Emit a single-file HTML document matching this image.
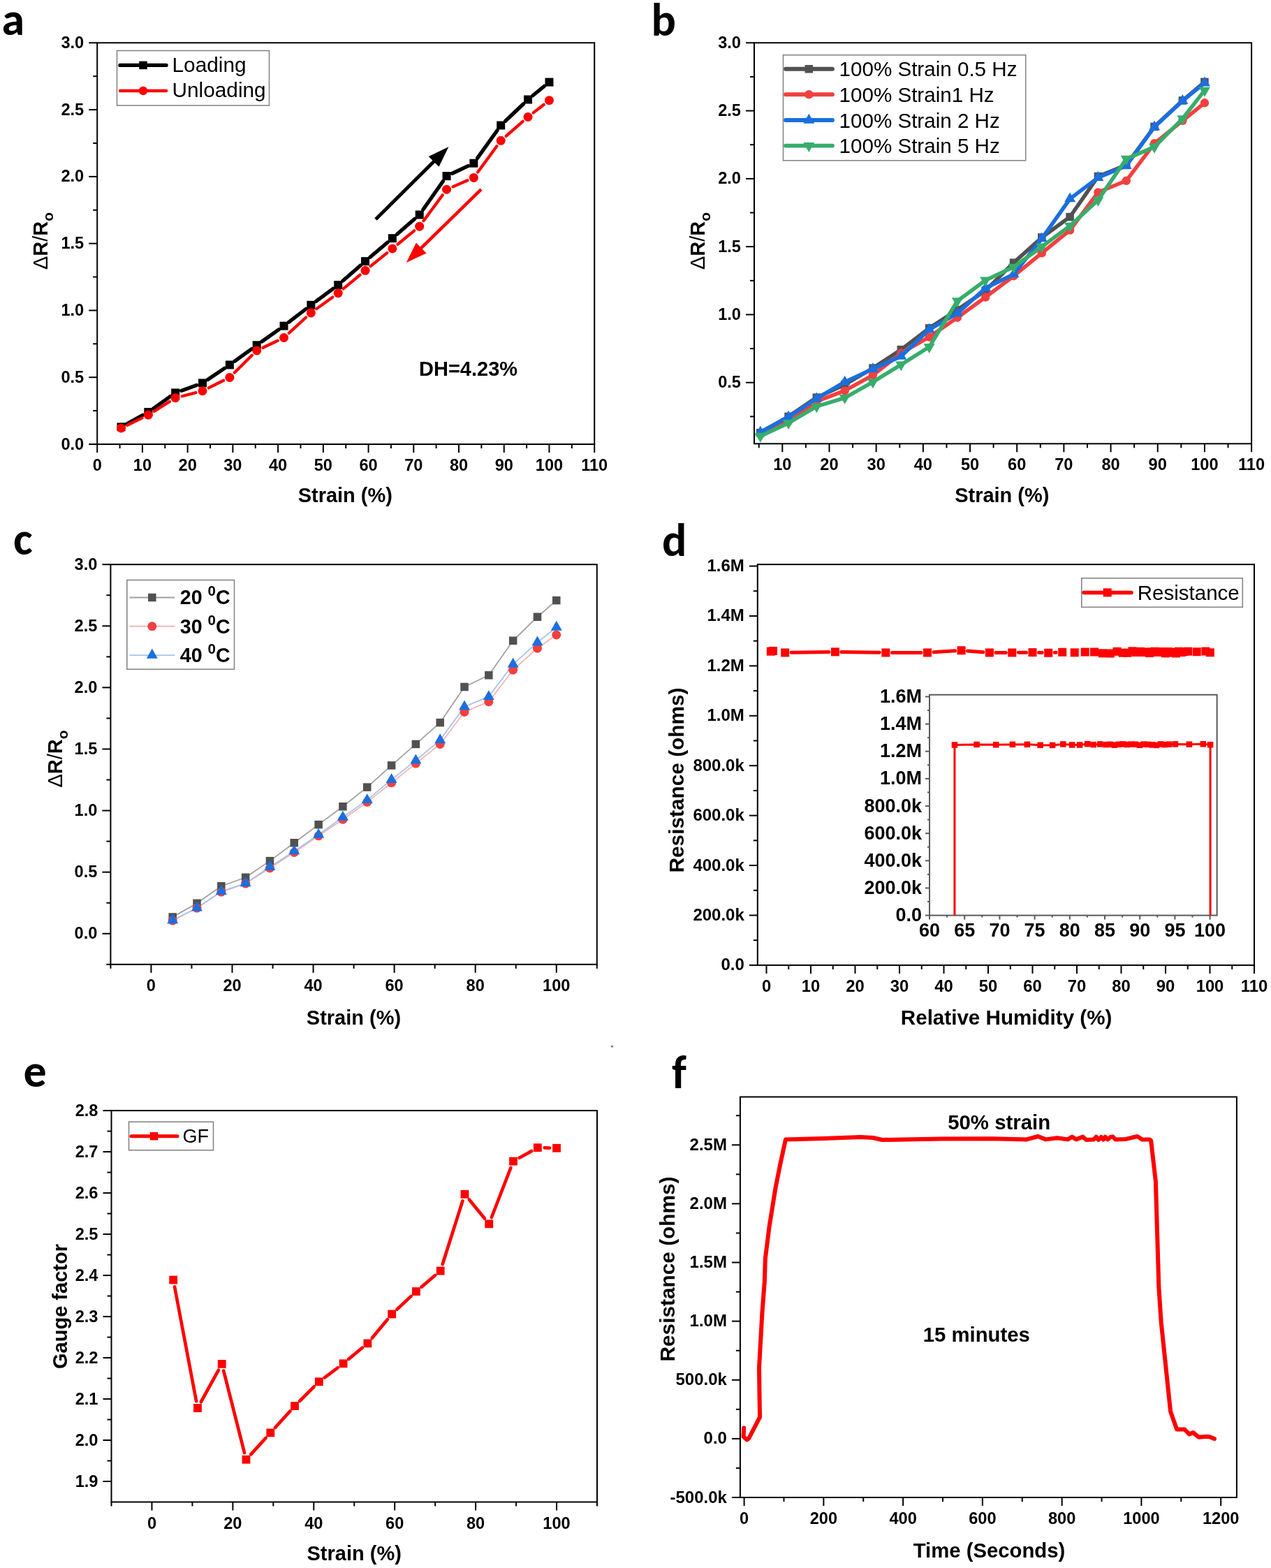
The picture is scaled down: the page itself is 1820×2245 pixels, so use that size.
<!DOCTYPE html>
<html><head><meta charset="utf-8"><title>Figure</title>
<style>html,body{margin:0;padding:0;background:#fff;} svg{display:block;}</style>
</head><body>
<svg width="1820" height="2245" viewBox="0 0 1820 2245" font-family="Liberation Sans, Arial, sans-serif">
<rect x="0" y="0" width="1820" height="2245" fill="#fff"/>
<rect x="139.2" y="61.3" width="712" height="574.7" fill="none" stroke="#000" stroke-width="2"/>
<line x1="139.2" y1="636" x2="139.2" y2="648" stroke="#000" stroke-width="2" stroke-linecap="butt" />
<line x1="203.93" y1="636" x2="203.93" y2="648" stroke="#000" stroke-width="2" stroke-linecap="butt" />
<line x1="268.65" y1="636" x2="268.65" y2="648" stroke="#000" stroke-width="2" stroke-linecap="butt" />
<line x1="333.38" y1="636" x2="333.38" y2="648" stroke="#000" stroke-width="2" stroke-linecap="butt" />
<line x1="398.11" y1="636" x2="398.11" y2="648" stroke="#000" stroke-width="2" stroke-linecap="butt" />
<line x1="462.84" y1="636" x2="462.84" y2="648" stroke="#000" stroke-width="2" stroke-linecap="butt" />
<line x1="527.56" y1="636" x2="527.56" y2="648" stroke="#000" stroke-width="2" stroke-linecap="butt" />
<line x1="592.29" y1="636" x2="592.29" y2="648" stroke="#000" stroke-width="2" stroke-linecap="butt" />
<line x1="657.02" y1="636" x2="657.02" y2="648" stroke="#000" stroke-width="2" stroke-linecap="butt" />
<line x1="721.75" y1="636" x2="721.75" y2="648" stroke="#000" stroke-width="2" stroke-linecap="butt" />
<line x1="786.47" y1="636" x2="786.47" y2="648" stroke="#000" stroke-width="2" stroke-linecap="butt" />
<line x1="851.2" y1="636" x2="851.2" y2="648" stroke="#000" stroke-width="2" stroke-linecap="butt" />
<line x1="171.56" y1="636" x2="171.56" y2="642" stroke="#000" stroke-width="2" stroke-linecap="butt" />
<line x1="236.29" y1="636" x2="236.29" y2="642" stroke="#000" stroke-width="2" stroke-linecap="butt" />
<line x1="301.02" y1="636" x2="301.02" y2="642" stroke="#000" stroke-width="2" stroke-linecap="butt" />
<line x1="365.75" y1="636" x2="365.75" y2="642" stroke="#000" stroke-width="2" stroke-linecap="butt" />
<line x1="430.47" y1="636" x2="430.47" y2="642" stroke="#000" stroke-width="2" stroke-linecap="butt" />
<line x1="495.2" y1="636" x2="495.2" y2="642" stroke="#000" stroke-width="2" stroke-linecap="butt" />
<line x1="559.93" y1="636" x2="559.93" y2="642" stroke="#000" stroke-width="2" stroke-linecap="butt" />
<line x1="624.65" y1="636" x2="624.65" y2="642" stroke="#000" stroke-width="2" stroke-linecap="butt" />
<line x1="689.38" y1="636" x2="689.38" y2="642" stroke="#000" stroke-width="2" stroke-linecap="butt" />
<line x1="754.11" y1="636" x2="754.11" y2="642" stroke="#000" stroke-width="2" stroke-linecap="butt" />
<line x1="818.84" y1="636" x2="818.84" y2="642" stroke="#000" stroke-width="2" stroke-linecap="butt" />
<text x="139.2" y="674" font-size="23.6" font-weight="bold" text-anchor="middle" fill="#000" >0</text>
<text x="203.93" y="674" font-size="23.6" font-weight="bold" text-anchor="middle" fill="#000" >10</text>
<text x="268.65" y="674" font-size="23.6" font-weight="bold" text-anchor="middle" fill="#000" >20</text>
<text x="333.38" y="674" font-size="23.6" font-weight="bold" text-anchor="middle" fill="#000" >30</text>
<text x="398.11" y="674" font-size="23.6" font-weight="bold" text-anchor="middle" fill="#000" >40</text>
<text x="462.84" y="674" font-size="23.6" font-weight="bold" text-anchor="middle" fill="#000" >50</text>
<text x="527.56" y="674" font-size="23.6" font-weight="bold" text-anchor="middle" fill="#000" >60</text>
<text x="592.29" y="674" font-size="23.6" font-weight="bold" text-anchor="middle" fill="#000" >70</text>
<text x="657.02" y="674" font-size="23.6" font-weight="bold" text-anchor="middle" fill="#000" >80</text>
<text x="721.75" y="674" font-size="23.6" font-weight="bold" text-anchor="middle" fill="#000" >90</text>
<text x="786.47" y="674" font-size="23.6" font-weight="bold" text-anchor="middle" fill="#000" >100</text>
<text x="851.2" y="674" font-size="23.6" font-weight="bold" text-anchor="middle" fill="#000" >110</text>
<line x1="127.2" y1="636" x2="139.2" y2="636" stroke="#000" stroke-width="2" stroke-linecap="butt" />
<line x1="127.2" y1="540.22" x2="139.2" y2="540.22" stroke="#000" stroke-width="2" stroke-linecap="butt" />
<line x1="127.2" y1="444.43" x2="139.2" y2="444.43" stroke="#000" stroke-width="2" stroke-linecap="butt" />
<line x1="127.2" y1="348.65" x2="139.2" y2="348.65" stroke="#000" stroke-width="2" stroke-linecap="butt" />
<line x1="127.2" y1="252.87" x2="139.2" y2="252.87" stroke="#000" stroke-width="2" stroke-linecap="butt" />
<line x1="127.2" y1="157.08" x2="139.2" y2="157.08" stroke="#000" stroke-width="2" stroke-linecap="butt" />
<line x1="127.2" y1="61.3" x2="139.2" y2="61.3" stroke="#000" stroke-width="2" stroke-linecap="butt" />
<line x1="133.2" y1="588.11" x2="139.2" y2="588.11" stroke="#000" stroke-width="2" stroke-linecap="butt" />
<line x1="133.2" y1="492.32" x2="139.2" y2="492.32" stroke="#000" stroke-width="2" stroke-linecap="butt" />
<line x1="133.2" y1="396.54" x2="139.2" y2="396.54" stroke="#000" stroke-width="2" stroke-linecap="butt" />
<line x1="133.2" y1="300.76" x2="139.2" y2="300.76" stroke="#000" stroke-width="2" stroke-linecap="butt" />
<line x1="133.2" y1="204.97" x2="139.2" y2="204.97" stroke="#000" stroke-width="2" stroke-linecap="butt" />
<line x1="133.2" y1="109.19" x2="139.2" y2="109.19" stroke="#000" stroke-width="2" stroke-linecap="butt" />
<text x="120.2" y="643.5" font-size="23.6" font-weight="bold" text-anchor="end" fill="#000" >0.0</text>
<text x="120.2" y="547.72" font-size="23.6" font-weight="bold" text-anchor="end" fill="#000" >0.5</text>
<text x="120.2" y="451.93" font-size="23.6" font-weight="bold" text-anchor="end" fill="#000" >1.0</text>
<text x="120.2" y="356.15" font-size="23.6" font-weight="bold" text-anchor="end" fill="#000" >1.5</text>
<text x="120.2" y="260.37" font-size="23.6" font-weight="bold" text-anchor="end" fill="#000" >2.0</text>
<text x="120.2" y="164.58" font-size="23.6" font-weight="bold" text-anchor="end" fill="#000" >2.5</text>
<text x="120.2" y="68.8" font-size="23.6" font-weight="bold" text-anchor="end" fill="#000" >3.0</text>
<line x1="181.4" y1="606.97" x2="204.45" y2="594.35" stroke="#000" stroke-width="5.3" stroke-linecap="round" />
<line x1="219.68" y1="584.81" x2="243.84" y2="567.65" stroke="#000" stroke-width="5.3" stroke-linecap="round" />
<line x1="259.65" y1="559.39" x2="281.55" y2="551.5" stroke="#000" stroke-width="5.3" stroke-linecap="round" />
<line x1="297.49" y1="543.44" x2="321.38" y2="527.41" stroke="#000" stroke-width="5.3" stroke-linecap="round" />
<line x1="336.14" y1="517.12" x2="360.4" y2="499.52" stroke="#000" stroke-width="5.3" stroke-linecap="round" />
<line x1="375.02" y1="489.03" x2="399.19" y2="471.87" stroke="#000" stroke-width="5.3" stroke-linecap="round" />
<line x1="413.66" y1="461.17" x2="438.23" y2="442.26" stroke="#000" stroke-width="5.3" stroke-linecap="round" />
<line x1="452.59" y1="431.42" x2="476.96" y2="413.39" stroke="#000" stroke-width="5.3" stroke-linecap="round" />
<line x1="490.98" y1="402.12" x2="516.25" y2="380.05" stroke="#000" stroke-width="5.3" stroke-linecap="round" />
<line x1="529.9" y1="368.31" x2="555.01" y2="347" stroke="#000" stroke-width="5.3" stroke-linecap="round" />
<line x1="568.67" y1="335.28" x2="593.91" y2="313.36" stroke="#000" stroke-width="5.3" stroke-linecap="round" />
<line x1="605.87" y1="300.1" x2="634.37" y2="259.47" stroke="#000" stroke-width="5.3" stroke-linecap="round" />
<line x1="647.68" y1="248.25" x2="670.24" y2="237.56" stroke="#000" stroke-width="5.3" stroke-linecap="round" />
<line x1="683.62" y1="226.39" x2="711.97" y2="186.81" stroke="#000" stroke-width="5.3" stroke-linecap="round" />
<line x1="723.73" y1="173.29" x2="749.53" y2="148.73" stroke="#000" stroke-width="5.3" stroke-linecap="round" />
<line x1="763.02" y1="136.82" x2="779.51" y2="123.32" stroke="#000" stroke-width="5.3" stroke-linecap="round" />
<rect x="167.51" y="605.29" width="12" height="12" fill="#000"/>
<rect x="206.34" y="584.02" width="12" height="12" fill="#000"/>
<rect x="245.18" y="556.44" width="12" height="12" fill="#000"/>
<rect x="284.01" y="542.45" width="12" height="12" fill="#000"/>
<rect x="322.85" y="516.4" width="12" height="12" fill="#000"/>
<rect x="361.69" y="488.24" width="12" height="12" fill="#000"/>
<rect x="400.52" y="460.66" width="12" height="12" fill="#000"/>
<rect x="439.36" y="430.77" width="12" height="12" fill="#000"/>
<rect x="478.2" y="402.04" width="12" height="12" fill="#000"/>
<rect x="517.03" y="368.13" width="12" height="12" fill="#000"/>
<rect x="555.87" y="335.18" width="12" height="12" fill="#000"/>
<rect x="594.71" y="301.46" width="12" height="12" fill="#000"/>
<rect x="633.54" y="246.1" width="12" height="12" fill="#000"/>
<rect x="672.38" y="227.71" width="12" height="12" fill="#000"/>
<rect x="711.21" y="173.5" width="12" height="12" fill="#000"/>
<rect x="750.05" y="136.52" width="12" height="12" fill="#000"/>
<rect x="780.47" y="111.62" width="12" height="12" fill="#000"/>
<line x1="182.31" y1="608.71" x2="203.54" y2="598.35" stroke="#ff0000" stroke-width="4.3" stroke-linecap="round" />
<line x1="220.65" y1="588.84" x2="242.87" y2="574.92" stroke="#ff0000" stroke-width="4.3" stroke-linecap="round" />
<line x1="260.67" y1="567.28" x2="280.52" y2="562.19" stroke="#ff0000" stroke-width="4.3" stroke-linecap="round" />
<line x1="298.79" y1="555.39" x2="320.08" y2="544.78" stroke="#ff0000" stroke-width="4.3" stroke-linecap="round" />
<line x1="335.81" y1="533.51" x2="360.73" y2="508.8" stroke="#ff0000" stroke-width="4.3" stroke-linecap="round" />
<line x1="376.54" y1="497.71" x2="397.67" y2="487.71" stroke="#ff0000" stroke-width="4.3" stroke-linecap="round" />
<line x1="413.74" y1="476.89" x2="438.14" y2="454.51" stroke="#ff0000" stroke-width="4.3" stroke-linecap="round" />
<line x1="453.29" y1="442.13" x2="476.26" y2="425.47" stroke="#ff0000" stroke-width="4.3" stroke-linecap="round" />
<line x1="491.72" y1="413.45" x2="515.51" y2="393.62" stroke="#ff0000" stroke-width="4.3" stroke-linecap="round" />
<line x1="530.65" y1="381.18" x2="554.25" y2="362.09" stroke="#ff0000" stroke-width="4.3" stroke-linecap="round" />
<line x1="569.45" y1="349.72" x2="593.12" y2="330.34" stroke="#ff0000" stroke-width="4.3" stroke-linecap="round" />
<line x1="606.51" y1="316.23" x2="633.74" y2="279.16" stroke="#ff0000" stroke-width="4.3" stroke-linecap="round" />
<line x1="648.53" y1="267.35" x2="669.39" y2="258.3" stroke="#ff0000" stroke-width="4.3" stroke-linecap="round" />
<line x1="684.17" y1="246.49" x2="711.43" y2="209.24" stroke="#ff0000" stroke-width="4.3" stroke-linecap="round" />
<line x1="724.6" y1="194.89" x2="748.67" y2="173.87" stroke="#ff0000" stroke-width="4.3" stroke-linecap="round" />
<line x1="763.78" y1="161.4" x2="778.75" y2="149.7" stroke="#ff0000" stroke-width="4.3" stroke-linecap="round" />
<circle cx="173.51" cy="613.01" r="6.5" fill="#ff0000"/>
<circle cx="212.34" cy="594.05" r="6.5" fill="#ff0000"/>
<circle cx="251.18" cy="569.72" r="6.5" fill="#ff0000"/>
<circle cx="290.01" cy="559.76" r="6.5" fill="#ff0000"/>
<circle cx="328.85" cy="540.41" r="6.5" fill="#ff0000"/>
<circle cx="367.69" cy="501.9" r="6.5" fill="#ff0000"/>
<circle cx="406.52" cy="483.51" r="6.5" fill="#ff0000"/>
<circle cx="445.36" cy="447.88" r="6.5" fill="#ff0000"/>
<circle cx="484.2" cy="419.72" r="6.5" fill="#ff0000"/>
<circle cx="523.03" cy="387.35" r="6.5" fill="#ff0000"/>
<circle cx="561.87" cy="355.93" r="6.5" fill="#ff0000"/>
<circle cx="600.71" cy="324.13" r="6.5" fill="#ff0000"/>
<circle cx="639.54" cy="271.26" r="6.5" fill="#ff0000"/>
<circle cx="678.38" cy="254.4" r="6.5" fill="#ff0000"/>
<circle cx="717.21" cy="201.34" r="6.5" fill="#ff0000"/>
<circle cx="756.05" cy="167.43" r="6.5" fill="#ff0000"/>
<circle cx="786.47" cy="143.67" r="6.5" fill="#ff0000"/>
<rect x="167.5" y="72.5" width="218" height="78.5" fill="#fff" stroke="#868686" stroke-width="1.6"/>
<line x1="172" y1="93.4" x2="238" y2="93.4" stroke="#000" stroke-width="5.4" stroke-linecap="round" />
<rect x="199.25" y="87.65" width="11.5" height="11.5" fill="#000"/>
<line x1="172" y1="130" x2="238" y2="130" stroke="#ff0000" stroke-width="4.5" stroke-linecap="round" />
<circle cx="205" cy="130" r="6.2" fill="#ff0000"/>
<text x="246.5" y="102.5" font-size="29.8" font-weight="normal" text-anchor="start" fill="#000" >Loading</text>
<text x="246.5" y="139" font-size="29.8" font-weight="normal" text-anchor="start" fill="#000" >Unloading</text>
<line x1="538" y1="313.9" x2="622.53" y2="229.93" stroke="#000" stroke-width="5" stroke-linecap="butt" />
<polygon points="642.4,210.2 628.52,238.79 613.72,223.89" fill="#000"/>
<line x1="689" y1="271.2" x2="601.82" y2="356.43" stroke="#ff0000" stroke-width="4.6" stroke-linecap="butt" />
<polygon points="581.8,376 595.91,347.52 610.59,362.54" fill="#ff0000"/>
<text x="600" y="538" font-size="29" font-weight="bold" text-anchor="start" fill="#000" >DH=4.23%</text>
<text transform="translate(67.7,345) rotate(-90)" font-size="29" font-weight="bold" text-anchor="middle" fill="#000"><tspan font-weight="normal">&#916;</tspan>R<tspan font-weight="normal">/</tspan>R<tspan font-size="21" dy="8">o</tspan></text>
<text x="494.3" y="719" font-size="29" font-weight="bold" text-anchor="middle" fill="#000" >Strain (%)</text>
<text transform="translate(2.5,50) scale(1.0,1)" font-family="Carlito, Liberation Sans, sans-serif" font-size="66" font-weight="bold" fill="#000" style="font-size-adjust:0.485">a</text>
<rect x="1080" y="61.3" width="712.1" height="574" fill="none" stroke="#000" stroke-width="2"/>
<line x1="1120.31" y1="635.3" x2="1120.31" y2="647.3" stroke="#000" stroke-width="2" stroke-linecap="butt" />
<line x1="1187.49" y1="635.3" x2="1187.49" y2="647.3" stroke="#000" stroke-width="2" stroke-linecap="butt" />
<line x1="1254.67" y1="635.3" x2="1254.67" y2="647.3" stroke="#000" stroke-width="2" stroke-linecap="butt" />
<line x1="1321.85" y1="635.3" x2="1321.85" y2="647.3" stroke="#000" stroke-width="2" stroke-linecap="butt" />
<line x1="1389.02" y1="635.3" x2="1389.02" y2="647.3" stroke="#000" stroke-width="2" stroke-linecap="butt" />
<line x1="1456.2" y1="635.3" x2="1456.2" y2="647.3" stroke="#000" stroke-width="2" stroke-linecap="butt" />
<line x1="1523.38" y1="635.3" x2="1523.38" y2="647.3" stroke="#000" stroke-width="2" stroke-linecap="butt" />
<line x1="1590.56" y1="635.3" x2="1590.56" y2="647.3" stroke="#000" stroke-width="2" stroke-linecap="butt" />
<line x1="1657.74" y1="635.3" x2="1657.74" y2="647.3" stroke="#000" stroke-width="2" stroke-linecap="butt" />
<line x1="1724.92" y1="635.3" x2="1724.92" y2="647.3" stroke="#000" stroke-width="2" stroke-linecap="butt" />
<line x1="1792.1" y1="635.3" x2="1792.1" y2="647.3" stroke="#000" stroke-width="2" stroke-linecap="butt" />
<line x1="1086.72" y1="635.3" x2="1086.72" y2="641.3" stroke="#000" stroke-width="2" stroke-linecap="butt" />
<line x1="1153.9" y1="635.3" x2="1153.9" y2="641.3" stroke="#000" stroke-width="2" stroke-linecap="butt" />
<line x1="1221.08" y1="635.3" x2="1221.08" y2="641.3" stroke="#000" stroke-width="2" stroke-linecap="butt" />
<line x1="1288.26" y1="635.3" x2="1288.26" y2="641.3" stroke="#000" stroke-width="2" stroke-linecap="butt" />
<line x1="1355.43" y1="635.3" x2="1355.43" y2="641.3" stroke="#000" stroke-width="2" stroke-linecap="butt" />
<line x1="1422.61" y1="635.3" x2="1422.61" y2="641.3" stroke="#000" stroke-width="2" stroke-linecap="butt" />
<line x1="1489.79" y1="635.3" x2="1489.79" y2="641.3" stroke="#000" stroke-width="2" stroke-linecap="butt" />
<line x1="1556.97" y1="635.3" x2="1556.97" y2="641.3" stroke="#000" stroke-width="2" stroke-linecap="butt" />
<line x1="1624.15" y1="635.3" x2="1624.15" y2="641.3" stroke="#000" stroke-width="2" stroke-linecap="butt" />
<line x1="1691.33" y1="635.3" x2="1691.33" y2="641.3" stroke="#000" stroke-width="2" stroke-linecap="butt" />
<line x1="1758.51" y1="635.3" x2="1758.51" y2="641.3" stroke="#000" stroke-width="2" stroke-linecap="butt" />
<text x="1120.31" y="673.3" font-size="23.6" font-weight="bold" text-anchor="middle" fill="#000" >10</text>
<text x="1187.49" y="673.3" font-size="23.6" font-weight="bold" text-anchor="middle" fill="#000" >20</text>
<text x="1254.67" y="673.3" font-size="23.6" font-weight="bold" text-anchor="middle" fill="#000" >30</text>
<text x="1321.85" y="673.3" font-size="23.6" font-weight="bold" text-anchor="middle" fill="#000" >40</text>
<text x="1389.02" y="673.3" font-size="23.6" font-weight="bold" text-anchor="middle" fill="#000" >50</text>
<text x="1456.2" y="673.3" font-size="23.6" font-weight="bold" text-anchor="middle" fill="#000" >60</text>
<text x="1523.38" y="673.3" font-size="23.6" font-weight="bold" text-anchor="middle" fill="#000" >70</text>
<text x="1590.56" y="673.3" font-size="23.6" font-weight="bold" text-anchor="middle" fill="#000" >80</text>
<text x="1657.74" y="673.3" font-size="23.6" font-weight="bold" text-anchor="middle" fill="#000" >90</text>
<text x="1724.92" y="673.3" font-size="23.6" font-weight="bold" text-anchor="middle" fill="#000" >100</text>
<text x="1792.1" y="673.3" font-size="23.6" font-weight="bold" text-anchor="middle" fill="#000" >110</text>
<line x1="1068" y1="547.74" x2="1080" y2="547.74" stroke="#000" stroke-width="2" stroke-linecap="butt" />
<line x1="1068" y1="450.45" x2="1080" y2="450.45" stroke="#000" stroke-width="2" stroke-linecap="butt" />
<line x1="1068" y1="353.16" x2="1080" y2="353.16" stroke="#000" stroke-width="2" stroke-linecap="butt" />
<line x1="1068" y1="255.88" x2="1080" y2="255.88" stroke="#000" stroke-width="2" stroke-linecap="butt" />
<line x1="1068" y1="158.59" x2="1080" y2="158.59" stroke="#000" stroke-width="2" stroke-linecap="butt" />
<line x1="1068" y1="61.3" x2="1080" y2="61.3" stroke="#000" stroke-width="2" stroke-linecap="butt" />
<line x1="1074" y1="596.38" x2="1080" y2="596.38" stroke="#000" stroke-width="2" stroke-linecap="butt" />
<line x1="1074" y1="499.1" x2="1080" y2="499.1" stroke="#000" stroke-width="2" stroke-linecap="butt" />
<line x1="1074" y1="401.81" x2="1080" y2="401.81" stroke="#000" stroke-width="2" stroke-linecap="butt" />
<line x1="1074" y1="304.52" x2="1080" y2="304.52" stroke="#000" stroke-width="2" stroke-linecap="butt" />
<line x1="1074" y1="207.23" x2="1080" y2="207.23" stroke="#000" stroke-width="2" stroke-linecap="butt" />
<line x1="1074" y1="109.94" x2="1080" y2="109.94" stroke="#000" stroke-width="2" stroke-linecap="butt" />
<text x="1061" y="555.24" font-size="23.6" font-weight="bold" text-anchor="end" fill="#000" >0.5</text>
<text x="1061" y="457.95" font-size="23.6" font-weight="bold" text-anchor="end" fill="#000" >1.0</text>
<text x="1061" y="360.66" font-size="23.6" font-weight="bold" text-anchor="end" fill="#000" >1.5</text>
<text x="1061" y="263.38" font-size="23.6" font-weight="bold" text-anchor="end" fill="#000" >2.0</text>
<text x="1061" y="166.09" font-size="23.6" font-weight="bold" text-anchor="end" fill="#000" >2.5</text>
<text x="1061" y="68.8" font-size="23.6" font-weight="bold" text-anchor="end" fill="#000" >3.0</text>
<path d="M1088.73,619.73 L1129.04,596.38 L1169.35,569.14 L1209.66,550.66 L1249.96,527.12 L1290.27,500.65 L1330.58,469.91 L1370.89,443.64 L1411.19,416.01 L1451.5,376.12 L1491.81,339.93 L1532.12,310.55 L1572.42,252.57 L1612.73,236.42 L1653.04,181.35 L1693.35,143.99 L1724.92,117.34" fill="none" stroke="#515151" stroke-width="5.5" stroke-linejoin="round" stroke-linecap="round"/>
<rect x="1082.98" y="613.98" width="11.5" height="11.5" fill="#515151"/>
<rect x="1123.29" y="590.63" width="11.5" height="11.5" fill="#515151"/>
<rect x="1163.6" y="563.39" width="11.5" height="11.5" fill="#515151"/>
<rect x="1203.91" y="544.91" width="11.5" height="11.5" fill="#515151"/>
<rect x="1244.21" y="521.37" width="11.5" height="11.5" fill="#515151"/>
<rect x="1284.52" y="494.9" width="11.5" height="11.5" fill="#515151"/>
<rect x="1324.83" y="464.16" width="11.5" height="11.5" fill="#515151"/>
<rect x="1365.14" y="437.89" width="11.5" height="11.5" fill="#515151"/>
<rect x="1405.44" y="410.26" width="11.5" height="11.5" fill="#515151"/>
<rect x="1445.75" y="370.37" width="11.5" height="11.5" fill="#515151"/>
<rect x="1486.06" y="334.18" width="11.5" height="11.5" fill="#515151"/>
<rect x="1526.37" y="304.8" width="11.5" height="11.5" fill="#515151"/>
<rect x="1566.67" y="246.82" width="11.5" height="11.5" fill="#515151"/>
<rect x="1606.98" y="230.67" width="11.5" height="11.5" fill="#515151"/>
<rect x="1647.29" y="175.6" width="11.5" height="11.5" fill="#515151"/>
<rect x="1687.6" y="138.24" width="11.5" height="11.5" fill="#515151"/>
<rect x="1719.17" y="111.59" width="11.5" height="11.5" fill="#515151"/>
<path d="M1088.73,621.68 L1129.04,603.19 L1169.35,574.59 L1209.66,559.42 L1249.96,537.04 L1290.27,505.71 L1330.58,482.56 L1370.89,454.73 L1411.19,425.55 L1451.5,395.19 L1491.81,362.31 L1532.12,329.62 L1572.42,275.33 L1612.73,258.79 L1653.04,205.29 L1693.35,172.79 L1724.92,147.3" fill="none" stroke="#F14040" stroke-width="5.5" stroke-linejoin="round" stroke-linecap="round"/>
<circle cx="1088.73" cy="621.68" r="6.2" fill="#F14040"/>
<circle cx="1129.04" cy="603.19" r="6.2" fill="#F14040"/>
<circle cx="1169.35" cy="574.59" r="6.2" fill="#F14040"/>
<circle cx="1209.66" cy="559.42" r="6.2" fill="#F14040"/>
<circle cx="1249.96" cy="537.04" r="6.2" fill="#F14040"/>
<circle cx="1290.27" cy="505.71" r="6.2" fill="#F14040"/>
<circle cx="1330.58" cy="482.56" r="6.2" fill="#F14040"/>
<circle cx="1370.89" cy="454.73" r="6.2" fill="#F14040"/>
<circle cx="1411.19" cy="425.55" r="6.2" fill="#F14040"/>
<circle cx="1451.5" cy="395.19" r="6.2" fill="#F14040"/>
<circle cx="1491.81" cy="362.31" r="6.2" fill="#F14040"/>
<circle cx="1532.12" cy="329.62" r="6.2" fill="#F14040"/>
<circle cx="1572.42" cy="275.33" r="6.2" fill="#F14040"/>
<circle cx="1612.73" cy="258.79" r="6.2" fill="#F14040"/>
<circle cx="1653.04" cy="205.29" r="6.2" fill="#F14040"/>
<circle cx="1693.35" cy="172.79" r="6.2" fill="#F14040"/>
<circle cx="1724.92" cy="147.3" r="6.2" fill="#F14040"/>
<path d="M1088.73,618.76 L1129.04,596.97 L1169.35,570.7 L1209.66,546.96 L1249.96,528.28 L1290.27,510.19 L1330.58,471.86 L1370.89,448.7 L1411.19,412.51 L1451.5,392.66 L1491.81,341.68 L1532.12,284.67 L1572.42,254.32 L1612.73,237.39 L1653.04,181.74 L1693.35,144.38 L1724.92,118.89" fill="none" stroke="#1A6FDF" stroke-width="5.5" stroke-linejoin="round" stroke-linecap="round"/>
<polygon points="1088.73,609.48 1096.73,623.4 1080.73,623.4" fill="#1A6FDF"/>
<polygon points="1129.04,587.69 1137.04,601.61 1121.04,601.61" fill="#1A6FDF"/>
<polygon points="1169.35,561.42 1177.35,575.34 1161.35,575.34" fill="#1A6FDF"/>
<polygon points="1209.66,537.68 1217.66,551.6 1201.66,551.6" fill="#1A6FDF"/>
<polygon points="1249.96,519 1257.96,532.92 1241.96,532.92" fill="#1A6FDF"/>
<polygon points="1290.27,500.91 1298.27,514.83 1282.27,514.83" fill="#1A6FDF"/>
<polygon points="1330.58,462.58 1338.58,476.5 1322.58,476.5" fill="#1A6FDF"/>
<polygon points="1370.89,439.42 1378.89,453.34 1362.89,453.34" fill="#1A6FDF"/>
<polygon points="1411.19,403.23 1419.19,417.15 1403.19,417.15" fill="#1A6FDF"/>
<polygon points="1451.5,383.38 1459.5,397.3 1443.5,397.3" fill="#1A6FDF"/>
<polygon points="1491.81,332.4 1499.81,346.32 1483.81,346.32" fill="#1A6FDF"/>
<polygon points="1532.12,275.39 1540.12,289.31 1524.12,289.31" fill="#1A6FDF"/>
<polygon points="1572.42,245.04 1580.42,258.96 1564.42,258.96" fill="#1A6FDF"/>
<polygon points="1612.73,228.11 1620.73,242.03 1604.73,242.03" fill="#1A6FDF"/>
<polygon points="1653.04,172.46 1661.04,186.38 1645.04,186.38" fill="#1A6FDF"/>
<polygon points="1693.35,135.1 1701.35,149.02 1685.35,149.02" fill="#1A6FDF"/>
<polygon points="1724.92,109.61 1732.92,123.53 1716.92,123.53" fill="#1A6FDF"/>
<path d="M1088.73,624.4 L1129.04,605.72 L1169.35,581.99 L1209.66,569.53 L1249.96,546.96 L1290.27,522.06 L1330.58,496.76 L1370.89,430.99 L1411.19,401.22 L1451.5,382.35 L1491.81,353.16 L1532.12,323.39 L1572.42,286.42 L1612.73,227.47 L1653.04,210.35 L1693.35,169.87 L1724.92,129.4" fill="none" stroke="#37AD6B" stroke-width="5.5" stroke-linejoin="round" stroke-linecap="round"/>
<polygon points="1088.73,633.68 1096.73,619.76 1080.73,619.76" fill="#37AD6B"/>
<polygon points="1129.04,615 1137.04,601.08 1121.04,601.08" fill="#37AD6B"/>
<polygon points="1169.35,591.27 1177.35,577.35 1161.35,577.35" fill="#37AD6B"/>
<polygon points="1209.66,578.81 1217.66,564.89 1201.66,564.89" fill="#37AD6B"/>
<polygon points="1249.96,556.24 1257.96,542.32 1241.96,542.32" fill="#37AD6B"/>
<polygon points="1290.27,531.34 1298.27,517.42 1282.27,517.42" fill="#37AD6B"/>
<polygon points="1330.58,506.04 1338.58,492.12 1322.58,492.12" fill="#37AD6B"/>
<polygon points="1370.89,440.27 1378.89,426.35 1362.89,426.35" fill="#37AD6B"/>
<polygon points="1411.19,410.5 1419.19,396.58 1403.19,396.58" fill="#37AD6B"/>
<polygon points="1451.5,391.63 1459.5,377.71 1443.5,377.71" fill="#37AD6B"/>
<polygon points="1491.81,362.44 1499.81,348.52 1483.81,348.52" fill="#37AD6B"/>
<polygon points="1532.12,332.67 1540.12,318.75 1524.12,318.75" fill="#37AD6B"/>
<polygon points="1572.42,295.7 1580.42,281.78 1564.42,281.78" fill="#37AD6B"/>
<polygon points="1612.73,236.75 1620.73,222.83 1604.73,222.83" fill="#37AD6B"/>
<polygon points="1653.04,219.63 1661.04,205.71 1645.04,205.71" fill="#37AD6B"/>
<polygon points="1693.35,179.15 1701.35,165.23 1685.35,165.23" fill="#37AD6B"/>
<polygon points="1724.92,138.68 1732.92,124.76 1716.92,124.76" fill="#37AD6B"/>
<rect x="1121.5" y="78.75" width="347.2" height="151.05" fill="#fff" stroke="#868686" stroke-width="1.6"/>
<line x1="1125" y1="98.75" x2="1192" y2="98.75" stroke="#515151" stroke-width="5.8" stroke-linecap="round" />
<rect x="1152.55" y="93" width="11.5" height="11.5" fill="#515151"/>
<text x="1201.5" y="109.25" font-size="29.6" font-weight="normal" text-anchor="start" fill="#000" >100% Strain 0.5 Hz</text>
<line x1="1125" y1="135.25" x2="1192" y2="135.25" stroke="#F14040" stroke-width="5.8" stroke-linecap="round" />
<circle cx="1158.3" cy="135.25" r="6.2" fill="#F14040"/>
<text x="1201.5" y="145.75" font-size="29.6" font-weight="normal" text-anchor="start" fill="#000" >100% Strain1 Hz</text>
<line x1="1125" y1="172" x2="1192" y2="172" stroke="#1A6FDF" stroke-width="5.8" stroke-linecap="round" />
<polygon points="1158.3,162.72 1166.3,176.64 1150.3,176.64" fill="#1A6FDF"/>
<text x="1201.5" y="182.5" font-size="29.6" font-weight="normal" text-anchor="start" fill="#000" >100% Strain 2 Hz</text>
<line x1="1125" y1="208.6" x2="1192" y2="208.6" stroke="#37AD6B" stroke-width="5.8" stroke-linecap="round" />
<polygon points="1158.3,217.88 1166.3,203.96 1150.3,203.96" fill="#37AD6B"/>
<text x="1201.5" y="219.1" font-size="29.6" font-weight="normal" text-anchor="start" fill="#000" >100% Strain 5 Hz</text>
<text transform="translate(1009,345) rotate(-90)" font-size="29" font-weight="bold" text-anchor="middle" fill="#000"><tspan font-weight="normal">&#916;</tspan>R<tspan font-weight="normal">/</tspan>R<tspan font-size="21" dy="8">o</tspan></text>
<text x="1434.8" y="719" font-size="29" font-weight="bold" text-anchor="middle" fill="#000" >Strain (%)</text>
<text transform="translate(932.5,51.25) scale(1.0,1)" font-family="Carlito, Liberation Sans, sans-serif" font-size="66" font-weight="bold" fill="#000" style="font-size-adjust:0.485">b</text>
<rect x="158.4" y="808.2" width="696.4" height="572.6" fill="none" stroke="#000" stroke-width="2"/>
<line x1="216.43" y1="1380.8" x2="216.43" y2="1392.8" stroke="#000" stroke-width="2" stroke-linecap="butt" />
<line x1="332.5" y1="1380.8" x2="332.5" y2="1392.8" stroke="#000" stroke-width="2" stroke-linecap="butt" />
<line x1="448.57" y1="1380.8" x2="448.57" y2="1392.8" stroke="#000" stroke-width="2" stroke-linecap="butt" />
<line x1="564.63" y1="1380.8" x2="564.63" y2="1392.8" stroke="#000" stroke-width="2" stroke-linecap="butt" />
<line x1="680.7" y1="1380.8" x2="680.7" y2="1392.8" stroke="#000" stroke-width="2" stroke-linecap="butt" />
<line x1="796.77" y1="1380.8" x2="796.77" y2="1392.8" stroke="#000" stroke-width="2" stroke-linecap="butt" />
<line x1="158.4" y1="1380.8" x2="158.4" y2="1386.8" stroke="#000" stroke-width="2" stroke-linecap="butt" />
<line x1="274.47" y1="1380.8" x2="274.47" y2="1386.8" stroke="#000" stroke-width="2" stroke-linecap="butt" />
<line x1="390.53" y1="1380.8" x2="390.53" y2="1386.8" stroke="#000" stroke-width="2" stroke-linecap="butt" />
<line x1="506.6" y1="1380.8" x2="506.6" y2="1386.8" stroke="#000" stroke-width="2" stroke-linecap="butt" />
<line x1="622.67" y1="1380.8" x2="622.67" y2="1386.8" stroke="#000" stroke-width="2" stroke-linecap="butt" />
<line x1="738.73" y1="1380.8" x2="738.73" y2="1386.8" stroke="#000" stroke-width="2" stroke-linecap="butt" />
<line x1="854.8" y1="1380.8" x2="854.8" y2="1386.8" stroke="#000" stroke-width="2" stroke-linecap="butt" />
<text x="216.43" y="1418.8" font-size="23.6" font-weight="bold" text-anchor="middle" fill="#000" >0</text>
<text x="332.5" y="1418.8" font-size="23.6" font-weight="bold" text-anchor="middle" fill="#000" >20</text>
<text x="448.57" y="1418.8" font-size="23.6" font-weight="bold" text-anchor="middle" fill="#000" >40</text>
<text x="564.63" y="1418.8" font-size="23.6" font-weight="bold" text-anchor="middle" fill="#000" >60</text>
<text x="680.7" y="1418.8" font-size="23.6" font-weight="bold" text-anchor="middle" fill="#000" >80</text>
<text x="796.77" y="1418.8" font-size="23.6" font-weight="bold" text-anchor="middle" fill="#000" >100</text>
<line x1="146.4" y1="1336.75" x2="158.4" y2="1336.75" stroke="#000" stroke-width="2" stroke-linecap="butt" />
<line x1="146.4" y1="1248.66" x2="158.4" y2="1248.66" stroke="#000" stroke-width="2" stroke-linecap="butt" />
<line x1="146.4" y1="1160.57" x2="158.4" y2="1160.57" stroke="#000" stroke-width="2" stroke-linecap="butt" />
<line x1="146.4" y1="1072.48" x2="158.4" y2="1072.48" stroke="#000" stroke-width="2" stroke-linecap="butt" />
<line x1="146.4" y1="984.38" x2="158.4" y2="984.38" stroke="#000" stroke-width="2" stroke-linecap="butt" />
<line x1="146.4" y1="896.29" x2="158.4" y2="896.29" stroke="#000" stroke-width="2" stroke-linecap="butt" />
<line x1="146.4" y1="808.2" x2="158.4" y2="808.2" stroke="#000" stroke-width="2" stroke-linecap="butt" />
<line x1="152.4" y1="1380.8" x2="158.4" y2="1380.8" stroke="#000" stroke-width="2" stroke-linecap="butt" />
<line x1="152.4" y1="1292.71" x2="158.4" y2="1292.71" stroke="#000" stroke-width="2" stroke-linecap="butt" />
<line x1="152.4" y1="1204.62" x2="158.4" y2="1204.62" stroke="#000" stroke-width="2" stroke-linecap="butt" />
<line x1="152.4" y1="1116.52" x2="158.4" y2="1116.52" stroke="#000" stroke-width="2" stroke-linecap="butt" />
<line x1="152.4" y1="1028.43" x2="158.4" y2="1028.43" stroke="#000" stroke-width="2" stroke-linecap="butt" />
<line x1="152.4" y1="940.34" x2="158.4" y2="940.34" stroke="#000" stroke-width="2" stroke-linecap="butt" />
<line x1="152.4" y1="852.25" x2="158.4" y2="852.25" stroke="#000" stroke-width="2" stroke-linecap="butt" />
<text x="139.4" y="1344.25" font-size="23.6" font-weight="bold" text-anchor="end" fill="#000" >0.0</text>
<text x="139.4" y="1256.16" font-size="23.6" font-weight="bold" text-anchor="end" fill="#000" >0.5</text>
<text x="139.4" y="1168.07" font-size="23.6" font-weight="bold" text-anchor="end" fill="#000" >1.0</text>
<text x="139.4" y="1079.98" font-size="23.6" font-weight="bold" text-anchor="end" fill="#000" >1.5</text>
<text x="139.4" y="991.88" font-size="23.6" font-weight="bold" text-anchor="end" fill="#000" >2.0</text>
<text x="139.4" y="903.79" font-size="23.6" font-weight="bold" text-anchor="end" fill="#000" >2.5</text>
<text x="139.4" y="815.7" font-size="23.6" font-weight="bold" text-anchor="end" fill="#000" >3.0</text>
<path d="M247.19,1312.97 L282.01,1293.24 L316.83,1268.75 L351.65,1256.24 L386.47,1232.63 L421.29,1206.73 L456.11,1180.65 L490.93,1154.76 L525.75,1127.09 L560.57,1095.91 L595.39,1065.43 L630.21,1034.6 L665.03,983.5 L699.85,966.77 L734.67,917.26 L769.49,883.25 L796.77,859.65" fill="none" stroke="#a0a0a0" stroke-width="1.8" stroke-linejoin="round" stroke-linecap="round"/>
<path d="M247.19,1318.08 L282.01,1300.11 L316.83,1277.03 L351.65,1265.05 L386.47,1243.02 L421.29,1220.47 L456.11,1196.86 L490.93,1173.25 L525.75,1148.41 L560.57,1120.75 L595.39,1093.09 L630.21,1065.43 L665.03,1019.45 L699.85,1004.65 L734.67,959.19 L769.49,928.18 L796.77,908.98" fill="none" stroke="#f6b4b4" stroke-width="1.8" stroke-linejoin="round" stroke-linecap="round"/>
<path d="M247.19,1317.55 L282.01,1299.93 L316.83,1276.32 L351.65,1264.52 L386.47,1241.26 L421.29,1218.71 L456.11,1195.1 L490.93,1170.08 L525.75,1145.42 L560.57,1116.35 L595.39,1088.69 L630.21,1059.62 L665.03,1011.87 L699.85,997.42 L734.67,951.09 L769.49,919.72 L796.77,898.05" fill="none" stroke="#a6c3ef" stroke-width="1.8" stroke-linejoin="round" stroke-linecap="round"/>
<rect x="241.44" y="1307.22" width="11.5" height="11.5" fill="#515151"/>
<rect x="276.26" y="1287.49" width="11.5" height="11.5" fill="#515151"/>
<rect x="311.08" y="1263" width="11.5" height="11.5" fill="#515151"/>
<rect x="345.9" y="1250.49" width="11.5" height="11.5" fill="#515151"/>
<rect x="380.72" y="1226.88" width="11.5" height="11.5" fill="#515151"/>
<rect x="415.54" y="1200.98" width="11.5" height="11.5" fill="#515151"/>
<rect x="450.36" y="1174.9" width="11.5" height="11.5" fill="#515151"/>
<rect x="485.18" y="1149.01" width="11.5" height="11.5" fill="#515151"/>
<rect x="520" y="1121.34" width="11.5" height="11.5" fill="#515151"/>
<rect x="554.82" y="1090.16" width="11.5" height="11.5" fill="#515151"/>
<rect x="589.64" y="1059.68" width="11.5" height="11.5" fill="#515151"/>
<rect x="624.46" y="1028.85" width="11.5" height="11.5" fill="#515151"/>
<rect x="659.28" y="977.75" width="11.5" height="11.5" fill="#515151"/>
<rect x="694.1" y="961.02" width="11.5" height="11.5" fill="#515151"/>
<rect x="728.92" y="911.51" width="11.5" height="11.5" fill="#515151"/>
<rect x="763.74" y="877.5" width="11.5" height="11.5" fill="#515151"/>
<rect x="791.02" y="853.9" width="11.5" height="11.5" fill="#515151"/>
<circle cx="247.19" cy="1318.08" r="6.5" fill="#F14040"/>
<circle cx="282.01" cy="1300.11" r="6.5" fill="#F14040"/>
<circle cx="316.83" cy="1277.03" r="6.5" fill="#F14040"/>
<circle cx="351.65" cy="1265.05" r="6.5" fill="#F14040"/>
<circle cx="386.47" cy="1243.02" r="6.5" fill="#F14040"/>
<circle cx="421.29" cy="1220.47" r="6.5" fill="#F14040"/>
<circle cx="456.11" cy="1196.86" r="6.5" fill="#F14040"/>
<circle cx="490.93" cy="1173.25" r="6.5" fill="#F14040"/>
<circle cx="525.75" cy="1148.41" r="6.5" fill="#F14040"/>
<circle cx="560.57" cy="1120.75" r="6.5" fill="#F14040"/>
<circle cx="595.39" cy="1093.09" r="6.5" fill="#F14040"/>
<circle cx="630.21" cy="1065.43" r="6.5" fill="#F14040"/>
<circle cx="665.03" cy="1019.45" r="6.5" fill="#F14040"/>
<circle cx="699.85" cy="1004.65" r="6.5" fill="#F14040"/>
<circle cx="734.67" cy="959.19" r="6.5" fill="#F14040"/>
<circle cx="769.49" cy="928.18" r="6.5" fill="#F14040"/>
<circle cx="796.77" cy="908.98" r="6.5" fill="#F14040"/>
<polygon points="247.19,1308.27 255.19,1322.19 239.19,1322.19" fill="#1A6FDF"/>
<polygon points="282.01,1290.65 290.01,1304.57 274.01,1304.57" fill="#1A6FDF"/>
<polygon points="316.83,1267.04 324.83,1280.96 308.83,1280.96" fill="#1A6FDF"/>
<polygon points="351.65,1255.24 359.65,1269.16 343.65,1269.16" fill="#1A6FDF"/>
<polygon points="386.47,1231.98 394.47,1245.9 378.47,1245.9" fill="#1A6FDF"/>
<polygon points="421.29,1209.43 429.29,1223.35 413.29,1223.35" fill="#1A6FDF"/>
<polygon points="456.11,1185.82 464.11,1199.74 448.11,1199.74" fill="#1A6FDF"/>
<polygon points="490.93,1160.8 498.93,1174.72 482.93,1174.72" fill="#1A6FDF"/>
<polygon points="525.75,1136.14 533.75,1150.06 517.75,1150.06" fill="#1A6FDF"/>
<polygon points="560.57,1107.07 568.57,1120.99 552.57,1120.99" fill="#1A6FDF"/>
<polygon points="595.39,1079.41 603.39,1093.33 587.39,1093.33" fill="#1A6FDF"/>
<polygon points="630.21,1050.34 638.21,1064.26 622.21,1064.26" fill="#1A6FDF"/>
<polygon points="665.03,1002.59 673.03,1016.51 657.03,1016.51" fill="#1A6FDF"/>
<polygon points="699.85,988.14 707.85,1002.06 691.85,1002.06" fill="#1A6FDF"/>
<polygon points="734.67,941.81 742.67,955.73 726.67,955.73" fill="#1A6FDF"/>
<polygon points="769.49,910.44 777.49,924.36 761.49,924.36" fill="#1A6FDF"/>
<polygon points="796.77,888.77 804.77,902.69 788.77,902.69" fill="#1A6FDF"/>
<rect x="181.8" y="830.5" width="153.7" height="127.75" fill="#fff" stroke="#868686" stroke-width="1.6"/>
<line x1="185.6" y1="855.5" x2="250.3" y2="855.5" stroke="#a0a0a0" stroke-width="1.8" stroke-linecap="butt" />
<rect x="212.05" y="849.75" width="11.5" height="11.5" fill="#515151"/>
<text x="257.8" y="865.3" font-size="28.6" font-weight="bold" fill="#000">20 <tspan font-size="20.5" dy="-12">0</tspan><tspan dy="12">C</tspan></text>
<line x1="185.6" y1="896.75" x2="250.3" y2="896.75" stroke="#f6b4b4" stroke-width="1.8" stroke-linecap="butt" />
<circle cx="217.8" cy="896.75" r="6.5" fill="#F14040"/>
<text x="257.8" y="906.55" font-size="28.6" font-weight="bold" fill="#000">30 <tspan font-size="20.5" dy="-12">0</tspan><tspan dy="12">C</tspan></text>
<line x1="185.6" y1="938.1" x2="250.3" y2="938.1" stroke="#a6c3ef" stroke-width="1.8" stroke-linecap="butt" />
<polygon points="217.8,928.82 225.8,942.74 209.8,942.74" fill="#1A6FDF"/>
<text x="257.8" y="947.9" font-size="28.6" font-weight="bold" fill="#000">40 <tspan font-size="20.5" dy="-12">0</tspan><tspan dy="12">C</tspan></text>
<text transform="translate(88.5,1086.5) rotate(-90)" font-size="29" font-weight="bold" text-anchor="middle" fill="#000"><tspan font-weight="normal">&#916;</tspan>R<tspan font-weight="normal">/</tspan>R<tspan font-size="21" dy="8">o</tspan></text>
<text x="506.5" y="1466.5" font-size="29" font-weight="bold" text-anchor="middle" fill="#000" >Strain (%)</text>
<text transform="translate(19,793.75) scale(1.0,1)" font-family="Carlito, Liberation Sans, sans-serif" font-size="66" font-weight="bold" fill="#000" style="font-size-adjust:0.485">c</text>
<rect x="1084.8" y="808.15" width="711.2" height="573.75" fill="none" stroke="#000" stroke-width="2"/>
<line x1="1097.5" y1="1381.9" x2="1097.5" y2="1393.9" stroke="#000" stroke-width="2" stroke-linecap="butt" />
<line x1="1161" y1="1381.9" x2="1161" y2="1393.9" stroke="#000" stroke-width="2" stroke-linecap="butt" />
<line x1="1224.5" y1="1381.9" x2="1224.5" y2="1393.9" stroke="#000" stroke-width="2" stroke-linecap="butt" />
<line x1="1288" y1="1381.9" x2="1288" y2="1393.9" stroke="#000" stroke-width="2" stroke-linecap="butt" />
<line x1="1351.5" y1="1381.9" x2="1351.5" y2="1393.9" stroke="#000" stroke-width="2" stroke-linecap="butt" />
<line x1="1415" y1="1381.9" x2="1415" y2="1393.9" stroke="#000" stroke-width="2" stroke-linecap="butt" />
<line x1="1478.5" y1="1381.9" x2="1478.5" y2="1393.9" stroke="#000" stroke-width="2" stroke-linecap="butt" />
<line x1="1542" y1="1381.9" x2="1542" y2="1393.9" stroke="#000" stroke-width="2" stroke-linecap="butt" />
<line x1="1605.5" y1="1381.9" x2="1605.5" y2="1393.9" stroke="#000" stroke-width="2" stroke-linecap="butt" />
<line x1="1669" y1="1381.9" x2="1669" y2="1393.9" stroke="#000" stroke-width="2" stroke-linecap="butt" />
<line x1="1732.5" y1="1381.9" x2="1732.5" y2="1393.9" stroke="#000" stroke-width="2" stroke-linecap="butt" />
<line x1="1796" y1="1381.9" x2="1796" y2="1393.9" stroke="#000" stroke-width="2" stroke-linecap="butt" />
<line x1="1129.25" y1="1381.9" x2="1129.25" y2="1387.9" stroke="#000" stroke-width="2" stroke-linecap="butt" />
<line x1="1192.75" y1="1381.9" x2="1192.75" y2="1387.9" stroke="#000" stroke-width="2" stroke-linecap="butt" />
<line x1="1256.25" y1="1381.9" x2="1256.25" y2="1387.9" stroke="#000" stroke-width="2" stroke-linecap="butt" />
<line x1="1319.75" y1="1381.9" x2="1319.75" y2="1387.9" stroke="#000" stroke-width="2" stroke-linecap="butt" />
<line x1="1383.25" y1="1381.9" x2="1383.25" y2="1387.9" stroke="#000" stroke-width="2" stroke-linecap="butt" />
<line x1="1446.75" y1="1381.9" x2="1446.75" y2="1387.9" stroke="#000" stroke-width="2" stroke-linecap="butt" />
<line x1="1510.25" y1="1381.9" x2="1510.25" y2="1387.9" stroke="#000" stroke-width="2" stroke-linecap="butt" />
<line x1="1573.75" y1="1381.9" x2="1573.75" y2="1387.9" stroke="#000" stroke-width="2" stroke-linecap="butt" />
<line x1="1637.25" y1="1381.9" x2="1637.25" y2="1387.9" stroke="#000" stroke-width="2" stroke-linecap="butt" />
<line x1="1700.75" y1="1381.9" x2="1700.75" y2="1387.9" stroke="#000" stroke-width="2" stroke-linecap="butt" />
<line x1="1764.25" y1="1381.9" x2="1764.25" y2="1387.9" stroke="#000" stroke-width="2" stroke-linecap="butt" />
<text x="1097.5" y="1419.9" font-size="23.8" font-weight="bold" text-anchor="middle" fill="#000" >0</text>
<text x="1161" y="1419.9" font-size="23.8" font-weight="bold" text-anchor="middle" fill="#000" >10</text>
<text x="1224.5" y="1419.9" font-size="23.8" font-weight="bold" text-anchor="middle" fill="#000" >20</text>
<text x="1288" y="1419.9" font-size="23.8" font-weight="bold" text-anchor="middle" fill="#000" >30</text>
<text x="1351.5" y="1419.9" font-size="23.8" font-weight="bold" text-anchor="middle" fill="#000" >40</text>
<text x="1415" y="1419.9" font-size="23.8" font-weight="bold" text-anchor="middle" fill="#000" >50</text>
<text x="1478.5" y="1419.9" font-size="23.8" font-weight="bold" text-anchor="middle" fill="#000" >60</text>
<text x="1542" y="1419.9" font-size="23.8" font-weight="bold" text-anchor="middle" fill="#000" >70</text>
<text x="1605.5" y="1419.9" font-size="23.8" font-weight="bold" text-anchor="middle" fill="#000" >80</text>
<text x="1669" y="1419.9" font-size="23.8" font-weight="bold" text-anchor="middle" fill="#000" >90</text>
<text x="1732.5" y="1419.9" font-size="23.8" font-weight="bold" text-anchor="middle" fill="#000" >100</text>
<text x="1796" y="1419.9" font-size="23.8" font-weight="bold" text-anchor="middle" fill="#000" >110</text>
<line x1="1072.8" y1="1381.9" x2="1084.8" y2="1381.9" stroke="#000" stroke-width="2" stroke-linecap="butt" />
<line x1="1072.8" y1="1310.48" x2="1084.8" y2="1310.48" stroke="#000" stroke-width="2" stroke-linecap="butt" />
<line x1="1072.8" y1="1239.06" x2="1084.8" y2="1239.06" stroke="#000" stroke-width="2" stroke-linecap="butt" />
<line x1="1072.8" y1="1167.64" x2="1084.8" y2="1167.64" stroke="#000" stroke-width="2" stroke-linecap="butt" />
<line x1="1072.8" y1="1096.22" x2="1084.8" y2="1096.22" stroke="#000" stroke-width="2" stroke-linecap="butt" />
<line x1="1072.8" y1="1024.8" x2="1084.8" y2="1024.8" stroke="#000" stroke-width="2" stroke-linecap="butt" />
<line x1="1072.8" y1="953.38" x2="1084.8" y2="953.38" stroke="#000" stroke-width="2" stroke-linecap="butt" />
<line x1="1072.8" y1="881.96" x2="1084.8" y2="881.96" stroke="#000" stroke-width="2" stroke-linecap="butt" />
<line x1="1072.8" y1="810.54" x2="1084.8" y2="810.54" stroke="#000" stroke-width="2" stroke-linecap="butt" />
<line x1="1078.8" y1="1346.19" x2="1084.8" y2="1346.19" stroke="#000" stroke-width="2" stroke-linecap="butt" />
<line x1="1078.8" y1="1274.77" x2="1084.8" y2="1274.77" stroke="#000" stroke-width="2" stroke-linecap="butt" />
<line x1="1078.8" y1="1203.35" x2="1084.8" y2="1203.35" stroke="#000" stroke-width="2" stroke-linecap="butt" />
<line x1="1078.8" y1="1131.93" x2="1084.8" y2="1131.93" stroke="#000" stroke-width="2" stroke-linecap="butt" />
<line x1="1078.8" y1="1060.51" x2="1084.8" y2="1060.51" stroke="#000" stroke-width="2" stroke-linecap="butt" />
<line x1="1078.8" y1="989.09" x2="1084.8" y2="989.09" stroke="#000" stroke-width="2" stroke-linecap="butt" />
<line x1="1078.8" y1="917.67" x2="1084.8" y2="917.67" stroke="#000" stroke-width="2" stroke-linecap="butt" />
<line x1="1078.8" y1="846.25" x2="1084.8" y2="846.25" stroke="#000" stroke-width="2" stroke-linecap="butt" />
<text x="1065.8" y="1389.4" font-size="24" font-weight="bold" text-anchor="end" fill="#000" >0.0</text>
<text x="1065.8" y="1317.98" font-size="24" font-weight="bold" text-anchor="end" fill="#000" >200.0k</text>
<text x="1065.8" y="1246.56" font-size="24" font-weight="bold" text-anchor="end" fill="#000" >400.0k</text>
<text x="1065.8" y="1175.14" font-size="24" font-weight="bold" text-anchor="end" fill="#000" >600.0k</text>
<text x="1065.8" y="1103.72" font-size="24" font-weight="bold" text-anchor="end" fill="#000" >800.0k</text>
<text x="1065.8" y="1032.3" font-size="24" font-weight="bold" text-anchor="end" fill="#000" >1.0M</text>
<text x="1065.8" y="960.88" font-size="24" font-weight="bold" text-anchor="end" fill="#000" >1.2M</text>
<text x="1065.8" y="889.46" font-size="24" font-weight="bold" text-anchor="end" fill="#000" >1.4M</text>
<text x="1065.8" y="818.04" font-size="24" font-weight="bold" text-anchor="end" fill="#000" >1.6M</text>
<line x1="1133.17" y1="934.32" x2="1186.93" y2="933.52" stroke="#ff0000" stroke-width="5" stroke-linecap="round" />
<line x1="1204.92" y1="933.52" x2="1259.32" y2="934.32" stroke="#ff0000" stroke-width="5" stroke-linecap="round" />
<line x1="1277.32" y1="934.45" x2="1319" y2="934.45" stroke="#ff0000" stroke-width="5" stroke-linecap="round" />
<line x1="1336.99" y1="933.86" x2="1367.6" y2="931.83" stroke="#ff0000" stroke-width="5" stroke-linecap="round" />
<line x1="1385.55" y1="931.95" x2="1407.93" y2="933.74" stroke="#ff0000" stroke-width="5" stroke-linecap="round" />
<line x1="1425.9" y1="934.45" x2="1440.29" y2="934.45" stroke="#ff0000" stroke-width="5" stroke-linecap="round" />
<line x1="1458.29" y1="934.34" x2="1469.5" y2="934.21" stroke="#ff0000" stroke-width="5" stroke-linecap="round" />
<line x1="1487.5" y1="934.36" x2="1492.24" y2="934.5" stroke="#ff0000" stroke-width="5" stroke-linecap="round" />
<line x1="1510.22" y1="934.32" x2="1512.25" y2="934.22" stroke="#ff0000" stroke-width="5" stroke-linecap="round" />
<rect x="1097.85" y="926.67" width="12" height="12" fill="#ff0000"/>
<rect x="1101.02" y="925.95" width="12" height="12" fill="#ff0000"/>
<rect x="1118.17" y="928.45" width="12" height="12" fill="#ff0000"/>
<rect x="1189.92" y="927.38" width="12" height="12" fill="#ff0000"/>
<rect x="1262.32" y="928.45" width="12" height="12" fill="#ff0000"/>
<rect x="1322" y="928.45" width="12" height="12" fill="#ff0000"/>
<rect x="1370.58" y="925.24" width="12" height="12" fill="#ff0000"/>
<rect x="1410.9" y="928.45" width="12" height="12" fill="#ff0000"/>
<rect x="1443.29" y="928.45" width="12" height="12" fill="#ff0000"/>
<rect x="1472.5" y="928.1" width="12" height="12" fill="#ff0000"/>
<rect x="1495.23" y="928.76" width="12" height="12" fill="#ff0000"/>
<rect x="1515.24" y="927.78" width="12" height="12" fill="#ff0000"/>
<rect x="1532.7" y="928.34" width="12" height="12" fill="#ff0000"/>
<rect x="1547.68" y="927.58" width="12" height="12" fill="#ff0000"/>
<rect x="1560.96" y="927.51" width="12" height="12" fill="#ff0000"/>
<rect x="1572.83" y="929.31" width="12" height="12" fill="#ff0000"/>
<rect x="1583.88" y="929.48" width="12" height="12" fill="#ff0000"/>
<rect x="1593.53" y="926.83" width="12" height="12" fill="#ff0000"/>
<rect x="1601.6" y="928.69" width="12" height="12" fill="#ff0000"/>
<rect x="1608.52" y="928.77" width="12" height="12" fill="#ff0000"/>
<rect x="1615.5" y="926.33" width="12" height="12" fill="#ff0000"/>
<rect x="1620.9" y="928.01" width="12" height="12" fill="#ff0000"/>
<rect x="1627" y="926.84" width="12" height="12" fill="#ff0000"/>
<rect x="1632.33" y="927.99" width="12" height="12" fill="#ff0000"/>
<rect x="1636.14" y="927.47" width="12" height="12" fill="#ff0000"/>
<rect x="1639.95" y="929.04" width="12" height="12" fill="#ff0000"/>
<rect x="1643.76" y="927.48" width="12" height="12" fill="#ff0000"/>
<rect x="1647.57" y="926.74" width="12" height="12" fill="#ff0000"/>
<rect x="1651.38" y="927.84" width="12" height="12" fill="#ff0000"/>
<rect x="1655.19" y="927.14" width="12" height="12" fill="#ff0000"/>
<rect x="1659" y="927.37" width="12" height="12" fill="#ff0000"/>
<rect x="1662.81" y="929.32" width="12" height="12" fill="#ff0000"/>
<rect x="1666.62" y="927.09" width="12" height="12" fill="#ff0000"/>
<rect x="1670.43" y="927.63" width="12" height="12" fill="#ff0000"/>
<rect x="1674.24" y="928.56" width="12" height="12" fill="#ff0000"/>
<rect x="1678.05" y="929.43" width="12" height="12" fill="#ff0000"/>
<rect x="1681.86" y="926.74" width="12" height="12" fill="#ff0000"/>
<rect x="1685.67" y="928.01" width="12" height="12" fill="#ff0000"/>
<rect x="1689.48" y="927.21" width="12" height="12" fill="#ff0000"/>
<rect x="1695.07" y="926.7" width="12" height="12" fill="#ff0000"/>
<rect x="1707.7" y="927.23" width="12" height="12" fill="#ff0000"/>
<rect x="1720.34" y="926.56" width="12" height="12" fill="#ff0000"/>
<rect x="1726.82" y="928.26" width="12" height="12" fill="#ff0000"/>
<rect x="1548.8" y="827.8" width="230.5" height="41.5" fill="#fff" stroke="#868686" stroke-width="1.6"/>
<line x1="1552" y1="848.4" x2="1620" y2="848.4" stroke="#ff0000" stroke-width="5.5" stroke-linecap="round" />
<rect x="1579.7" y="842.4" width="12" height="12" fill="#ff0000"/>
<text x="1628.8" y="858.6" font-size="29.5" font-weight="normal" text-anchor="start" fill="#000" >Resistance</text>
<rect x="1331" y="994.74" width="411.64" height="315.86" fill="#fff" stroke="#5a5a5a" stroke-width="2"/>
<line x1="1331" y1="1310.6" x2="1331" y2="1316.6" stroke="#5a5a5a" stroke-width="2" stroke-linecap="butt" />
<line x1="1381.2" y1="1310.6" x2="1381.2" y2="1316.6" stroke="#5a5a5a" stroke-width="2" stroke-linecap="butt" />
<line x1="1431.4" y1="1310.6" x2="1431.4" y2="1316.6" stroke="#5a5a5a" stroke-width="2" stroke-linecap="butt" />
<line x1="1481.6" y1="1310.6" x2="1481.6" y2="1316.6" stroke="#5a5a5a" stroke-width="2" stroke-linecap="butt" />
<line x1="1531.8" y1="1310.6" x2="1531.8" y2="1316.6" stroke="#5a5a5a" stroke-width="2" stroke-linecap="butt" />
<line x1="1582" y1="1310.6" x2="1582" y2="1316.6" stroke="#5a5a5a" stroke-width="2" stroke-linecap="butt" />
<line x1="1632.2" y1="1310.6" x2="1632.2" y2="1316.6" stroke="#5a5a5a" stroke-width="2" stroke-linecap="butt" />
<line x1="1682.4" y1="1310.6" x2="1682.4" y2="1316.6" stroke="#5a5a5a" stroke-width="2" stroke-linecap="butt" />
<line x1="1732.6" y1="1310.6" x2="1732.6" y2="1316.6" stroke="#5a5a5a" stroke-width="2" stroke-linecap="butt" />
<line x1="1356.1" y1="1310.6" x2="1356.1" y2="1313.6" stroke="#5a5a5a" stroke-width="2" stroke-linecap="butt" />
<line x1="1406.3" y1="1310.6" x2="1406.3" y2="1313.6" stroke="#5a5a5a" stroke-width="2" stroke-linecap="butt" />
<line x1="1456.5" y1="1310.6" x2="1456.5" y2="1313.6" stroke="#5a5a5a" stroke-width="2" stroke-linecap="butt" />
<line x1="1506.7" y1="1310.6" x2="1506.7" y2="1313.6" stroke="#5a5a5a" stroke-width="2" stroke-linecap="butt" />
<line x1="1556.9" y1="1310.6" x2="1556.9" y2="1313.6" stroke="#5a5a5a" stroke-width="2" stroke-linecap="butt" />
<line x1="1607.1" y1="1310.6" x2="1607.1" y2="1313.6" stroke="#5a5a5a" stroke-width="2" stroke-linecap="butt" />
<line x1="1657.3" y1="1310.6" x2="1657.3" y2="1313.6" stroke="#5a5a5a" stroke-width="2" stroke-linecap="butt" />
<line x1="1707.5" y1="1310.6" x2="1707.5" y2="1313.6" stroke="#5a5a5a" stroke-width="2" stroke-linecap="butt" />
<text x="1331" y="1340.6" font-size="27" font-weight="bold" text-anchor="middle" fill="#000" >60</text>
<text x="1381.2" y="1340.6" font-size="27" font-weight="bold" text-anchor="middle" fill="#000" >65</text>
<text x="1431.4" y="1340.6" font-size="27" font-weight="bold" text-anchor="middle" fill="#000" >70</text>
<text x="1481.6" y="1340.6" font-size="27" font-weight="bold" text-anchor="middle" fill="#000" >75</text>
<text x="1531.8" y="1340.6" font-size="27" font-weight="bold" text-anchor="middle" fill="#000" >80</text>
<text x="1582" y="1340.6" font-size="27" font-weight="bold" text-anchor="middle" fill="#000" >85</text>
<text x="1632.2" y="1340.6" font-size="27" font-weight="bold" text-anchor="middle" fill="#000" >90</text>
<text x="1682.4" y="1340.6" font-size="27" font-weight="bold" text-anchor="middle" fill="#000" >95</text>
<text x="1732.6" y="1340.6" font-size="27" font-weight="bold" text-anchor="middle" fill="#000" >100</text>
<line x1="1325" y1="1310.6" x2="1331" y2="1310.6" stroke="#5a5a5a" stroke-width="2" stroke-linecap="butt" />
<line x1="1325" y1="1271.46" x2="1331" y2="1271.46" stroke="#5a5a5a" stroke-width="2" stroke-linecap="butt" />
<line x1="1325" y1="1232.32" x2="1331" y2="1232.32" stroke="#5a5a5a" stroke-width="2" stroke-linecap="butt" />
<line x1="1325" y1="1193.18" x2="1331" y2="1193.18" stroke="#5a5a5a" stroke-width="2" stroke-linecap="butt" />
<line x1="1325" y1="1154.04" x2="1331" y2="1154.04" stroke="#5a5a5a" stroke-width="2" stroke-linecap="butt" />
<line x1="1325" y1="1114.9" x2="1331" y2="1114.9" stroke="#5a5a5a" stroke-width="2" stroke-linecap="butt" />
<line x1="1325" y1="1075.76" x2="1331" y2="1075.76" stroke="#5a5a5a" stroke-width="2" stroke-linecap="butt" />
<line x1="1325" y1="1036.62" x2="1331" y2="1036.62" stroke="#5a5a5a" stroke-width="2" stroke-linecap="butt" />
<line x1="1325" y1="997.48" x2="1331" y2="997.48" stroke="#5a5a5a" stroke-width="2" stroke-linecap="butt" />
<line x1="1328" y1="1291.03" x2="1331" y2="1291.03" stroke="#5a5a5a" stroke-width="2" stroke-linecap="butt" />
<line x1="1328" y1="1251.89" x2="1331" y2="1251.89" stroke="#5a5a5a" stroke-width="2" stroke-linecap="butt" />
<line x1="1328" y1="1212.75" x2="1331" y2="1212.75" stroke="#5a5a5a" stroke-width="2" stroke-linecap="butt" />
<line x1="1328" y1="1173.61" x2="1331" y2="1173.61" stroke="#5a5a5a" stroke-width="2" stroke-linecap="butt" />
<line x1="1328" y1="1134.47" x2="1331" y2="1134.47" stroke="#5a5a5a" stroke-width="2" stroke-linecap="butt" />
<line x1="1328" y1="1095.33" x2="1331" y2="1095.33" stroke="#5a5a5a" stroke-width="2" stroke-linecap="butt" />
<line x1="1328" y1="1056.19" x2="1331" y2="1056.19" stroke="#5a5a5a" stroke-width="2" stroke-linecap="butt" />
<line x1="1328" y1="1017.05" x2="1331" y2="1017.05" stroke="#5a5a5a" stroke-width="2" stroke-linecap="butt" />
<text x="1320" y="1319.1" font-size="27" font-weight="bold" text-anchor="end" fill="#000" >0.0</text>
<text x="1320" y="1279.96" font-size="27" font-weight="bold" text-anchor="end" fill="#000" >200.0k</text>
<text x="1320" y="1240.82" font-size="27" font-weight="bold" text-anchor="end" fill="#000" >400.0k</text>
<text x="1320" y="1201.68" font-size="27" font-weight="bold" text-anchor="end" fill="#000" >600.0k</text>
<text x="1320" y="1162.54" font-size="27" font-weight="bold" text-anchor="end" fill="#000" >800.0k</text>
<text x="1320" y="1123.4" font-size="27" font-weight="bold" text-anchor="end" fill="#000" >1.0M</text>
<text x="1320" y="1084.26" font-size="27" font-weight="bold" text-anchor="end" fill="#000" >1.2M</text>
<text x="1320" y="1045.12" font-size="27" font-weight="bold" text-anchor="end" fill="#000" >1.4M</text>
<text x="1320" y="1005.98" font-size="27" font-weight="bold" text-anchor="end" fill="#000" >1.6M</text>
<path d="M1366.94,1310.6 L1366.94,1066.53 L1398.57,1065.99 L1426.18,1066.3 L1449.87,1065.89 L1470.86,1065.85 L1489.63,1066.84 L1507.1,1066.93 L1522.36,1065.48 L1535.11,1066.5 L1546.06,1066.54 L1557.1,1065.2 L1565.63,1066.13 L1575.27,1065.48 L1583.71,1066.11 L1589.73,1065.83 L1595.75,1066.69 L1601.78,1065.84 L1607.8,1065.42 L1613.83,1066.03 L1619.85,1065.65 L1625.87,1065.77 L1631.9,1066.84 L1637.92,1065.62 L1643.95,1065.91 L1649.97,1066.42 L1655.99,1066.9 L1662.02,1065.43 L1668.04,1066.12 L1674.07,1065.69 L1682.9,1065.41 L1702.88,1065.7 L1722.86,1065.33 L1733.1,1066.26 L1733.1,1310.6" fill="none" stroke="#ff0000" stroke-width="3" stroke-linejoin="round"/>
<rect x="1362.69" y="1062.28" width="8.5" height="8.5" fill="#ff0000"/>
<rect x="1394.32" y="1061.74" width="8.5" height="8.5" fill="#ff0000"/>
<rect x="1421.93" y="1062.05" width="8.5" height="8.5" fill="#ff0000"/>
<rect x="1445.62" y="1061.64" width="8.5" height="8.5" fill="#ff0000"/>
<rect x="1466.61" y="1061.6" width="8.5" height="8.5" fill="#ff0000"/>
<rect x="1485.38" y="1062.59" width="8.5" height="8.5" fill="#ff0000"/>
<rect x="1502.85" y="1062.68" width="8.5" height="8.5" fill="#ff0000"/>
<rect x="1518.11" y="1061.23" width="8.5" height="8.5" fill="#ff0000"/>
<rect x="1530.86" y="1062.25" width="8.5" height="8.5" fill="#ff0000"/>
<rect x="1541.81" y="1062.29" width="8.5" height="8.5" fill="#ff0000"/>
<rect x="1552.85" y="1060.95" width="8.5" height="8.5" fill="#ff0000"/>
<rect x="1561.38" y="1061.88" width="8.5" height="8.5" fill="#ff0000"/>
<rect x="1571.02" y="1061.23" width="8.5" height="8.5" fill="#ff0000"/>
<rect x="1579.46" y="1061.86" width="8.5" height="8.5" fill="#ff0000"/>
<rect x="1585.48" y="1061.58" width="8.5" height="8.5" fill="#ff0000"/>
<rect x="1591.5" y="1062.44" width="8.5" height="8.5" fill="#ff0000"/>
<rect x="1597.53" y="1061.59" width="8.5" height="8.5" fill="#ff0000"/>
<rect x="1603.55" y="1061.17" width="8.5" height="8.5" fill="#ff0000"/>
<rect x="1609.58" y="1061.78" width="8.5" height="8.5" fill="#ff0000"/>
<rect x="1615.6" y="1061.4" width="8.5" height="8.5" fill="#ff0000"/>
<rect x="1621.62" y="1061.52" width="8.5" height="8.5" fill="#ff0000"/>
<rect x="1627.65" y="1062.59" width="8.5" height="8.5" fill="#ff0000"/>
<rect x="1633.67" y="1061.37" width="8.5" height="8.5" fill="#ff0000"/>
<rect x="1639.7" y="1061.66" width="8.5" height="8.5" fill="#ff0000"/>
<rect x="1645.72" y="1062.17" width="8.5" height="8.5" fill="#ff0000"/>
<rect x="1651.74" y="1062.65" width="8.5" height="8.5" fill="#ff0000"/>
<rect x="1657.77" y="1061.18" width="8.5" height="8.5" fill="#ff0000"/>
<rect x="1663.79" y="1061.87" width="8.5" height="8.5" fill="#ff0000"/>
<rect x="1669.82" y="1061.44" width="8.5" height="8.5" fill="#ff0000"/>
<rect x="1678.65" y="1061.16" width="8.5" height="8.5" fill="#ff0000"/>
<rect x="1698.63" y="1061.45" width="8.5" height="8.5" fill="#ff0000"/>
<rect x="1718.61" y="1061.08" width="8.5" height="8.5" fill="#ff0000"/>
<rect x="1728.85" y="1062.01" width="8.5" height="8.5" fill="#ff0000"/>
<text transform="translate(978.5,1117) rotate(-90)" font-size="29.8" font-weight="bold" text-anchor="middle" fill="#000">Resistance (ohms)</text>
<text x="1441.1" y="1467.1" font-size="29.6" font-weight="bold" text-anchor="middle" fill="#000" >Relative Humidity (%)</text>
<text transform="translate(948,795.5) scale(1.0,1)" font-family="Carlito, Liberation Sans, sans-serif" font-size="66" font-weight="bold" fill="#000" style="font-size-adjust:0.485">d</text>
<rect x="159.5" y="1590.1" width="695.5" height="560.4" fill="none" stroke="#000" stroke-width="2"/>
<line x1="217.46" y1="2150.5" x2="217.46" y2="2162.5" stroke="#000" stroke-width="2" stroke-linecap="butt" />
<line x1="333.38" y1="2150.5" x2="333.38" y2="2162.5" stroke="#000" stroke-width="2" stroke-linecap="butt" />
<line x1="449.29" y1="2150.5" x2="449.29" y2="2162.5" stroke="#000" stroke-width="2" stroke-linecap="butt" />
<line x1="565.21" y1="2150.5" x2="565.21" y2="2162.5" stroke="#000" stroke-width="2" stroke-linecap="butt" />
<line x1="681.12" y1="2150.5" x2="681.12" y2="2162.5" stroke="#000" stroke-width="2" stroke-linecap="butt" />
<line x1="797.04" y1="2150.5" x2="797.04" y2="2162.5" stroke="#000" stroke-width="2" stroke-linecap="butt" />
<line x1="159.5" y1="2150.5" x2="159.5" y2="2156.5" stroke="#000" stroke-width="2" stroke-linecap="butt" />
<line x1="275.42" y1="2150.5" x2="275.42" y2="2156.5" stroke="#000" stroke-width="2" stroke-linecap="butt" />
<line x1="391.33" y1="2150.5" x2="391.33" y2="2156.5" stroke="#000" stroke-width="2" stroke-linecap="butt" />
<line x1="507.25" y1="2150.5" x2="507.25" y2="2156.5" stroke="#000" stroke-width="2" stroke-linecap="butt" />
<line x1="623.17" y1="2150.5" x2="623.17" y2="2156.5" stroke="#000" stroke-width="2" stroke-linecap="butt" />
<line x1="739.08" y1="2150.5" x2="739.08" y2="2156.5" stroke="#000" stroke-width="2" stroke-linecap="butt" />
<line x1="855" y1="2150.5" x2="855" y2="2156.5" stroke="#000" stroke-width="2" stroke-linecap="butt" />
<text x="217.46" y="2188.5" font-size="23.6" font-weight="bold" text-anchor="middle" fill="#000" >0</text>
<text x="333.38" y="2188.5" font-size="23.6" font-weight="bold" text-anchor="middle" fill="#000" >20</text>
<text x="449.29" y="2188.5" font-size="23.6" font-weight="bold" text-anchor="middle" fill="#000" >40</text>
<text x="565.21" y="2188.5" font-size="23.6" font-weight="bold" text-anchor="middle" fill="#000" >60</text>
<text x="681.12" y="2188.5" font-size="23.6" font-weight="bold" text-anchor="middle" fill="#000" >80</text>
<text x="797.04" y="2188.5" font-size="23.6" font-weight="bold" text-anchor="middle" fill="#000" >100</text>
<line x1="147.5" y1="2121.01" x2="159.5" y2="2121.01" stroke="#000" stroke-width="2" stroke-linecap="butt" />
<line x1="147.5" y1="2062.02" x2="159.5" y2="2062.02" stroke="#000" stroke-width="2" stroke-linecap="butt" />
<line x1="147.5" y1="2003.03" x2="159.5" y2="2003.03" stroke="#000" stroke-width="2" stroke-linecap="butt" />
<line x1="147.5" y1="1944.04" x2="159.5" y2="1944.04" stroke="#000" stroke-width="2" stroke-linecap="butt" />
<line x1="147.5" y1="1885.05" x2="159.5" y2="1885.05" stroke="#000" stroke-width="2" stroke-linecap="butt" />
<line x1="147.5" y1="1826.06" x2="159.5" y2="1826.06" stroke="#000" stroke-width="2" stroke-linecap="butt" />
<line x1="147.5" y1="1767.07" x2="159.5" y2="1767.07" stroke="#000" stroke-width="2" stroke-linecap="butt" />
<line x1="147.5" y1="1708.08" x2="159.5" y2="1708.08" stroke="#000" stroke-width="2" stroke-linecap="butt" />
<line x1="147.5" y1="1649.09" x2="159.5" y2="1649.09" stroke="#000" stroke-width="2" stroke-linecap="butt" />
<line x1="147.5" y1="1590.1" x2="159.5" y2="1590.1" stroke="#000" stroke-width="2" stroke-linecap="butt" />
<line x1="153.5" y1="2091.51" x2="159.5" y2="2091.51" stroke="#000" stroke-width="2" stroke-linecap="butt" />
<line x1="153.5" y1="2032.52" x2="159.5" y2="2032.52" stroke="#000" stroke-width="2" stroke-linecap="butt" />
<line x1="153.5" y1="1973.53" x2="159.5" y2="1973.53" stroke="#000" stroke-width="2" stroke-linecap="butt" />
<line x1="153.5" y1="1914.54" x2="159.5" y2="1914.54" stroke="#000" stroke-width="2" stroke-linecap="butt" />
<line x1="153.5" y1="1855.55" x2="159.5" y2="1855.55" stroke="#000" stroke-width="2" stroke-linecap="butt" />
<line x1="153.5" y1="1796.56" x2="159.5" y2="1796.56" stroke="#000" stroke-width="2" stroke-linecap="butt" />
<line x1="153.5" y1="1737.57" x2="159.5" y2="1737.57" stroke="#000" stroke-width="2" stroke-linecap="butt" />
<line x1="153.5" y1="1678.58" x2="159.5" y2="1678.58" stroke="#000" stroke-width="2" stroke-linecap="butt" />
<line x1="153.5" y1="1619.59" x2="159.5" y2="1619.59" stroke="#000" stroke-width="2" stroke-linecap="butt" />
<text x="140.5" y="2128.51" font-size="23.6" font-weight="bold" text-anchor="end" fill="#000" >1.9</text>
<text x="140.5" y="2069.52" font-size="23.6" font-weight="bold" text-anchor="end" fill="#000" >2.0</text>
<text x="140.5" y="2010.53" font-size="23.6" font-weight="bold" text-anchor="end" fill="#000" >2.1</text>
<text x="140.5" y="1951.54" font-size="23.6" font-weight="bold" text-anchor="end" fill="#000" >2.2</text>
<text x="140.5" y="1892.55" font-size="23.6" font-weight="bold" text-anchor="end" fill="#000" >2.3</text>
<text x="140.5" y="1833.56" font-size="23.6" font-weight="bold" text-anchor="end" fill="#000" >2.4</text>
<text x="140.5" y="1774.57" font-size="23.6" font-weight="bold" text-anchor="end" fill="#000" >2.5</text>
<text x="140.5" y="1715.58" font-size="23.6" font-weight="bold" text-anchor="end" fill="#000" >2.6</text>
<text x="140.5" y="1656.59" font-size="23.6" font-weight="bold" text-anchor="end" fill="#000" >2.7</text>
<text x="140.5" y="1597.6" font-size="23.6" font-weight="bold" text-anchor="end" fill="#000" >2.8</text>
<line x1="250.04" y1="1842.37" x2="281.09" y2="2006.18" stroke="#ff0000" stroke-width="4.7" stroke-linecap="round" />
<line x1="287.78" y1="2007.25" x2="312.9" y2="1961.64" stroke="#ff0000" stroke-width="4.7" stroke-linecap="round" />
<line x1="320.19" y1="1962.58" x2="350.04" y2="2080.05" stroke="#ff0000" stroke-width="4.7" stroke-linecap="round" />
<line x1="359.22" y1="2082.33" x2="380.56" y2="2058.81" stroke="#ff0000" stroke-width="4.7" stroke-linecap="round" />
<line x1="393.99" y1="2043.99" x2="415.33" y2="2020.46" stroke="#ff0000" stroke-width="4.7" stroke-linecap="round" />
<line x1="429.12" y1="2005.98" x2="449.76" y2="1985.32" stroke="#ff0000" stroke-width="4.7" stroke-linecap="round" />
<line x1="464.84" y1="1972.27" x2="483.59" y2="1958.28" stroke="#ff0000" stroke-width="4.7" stroke-linecap="round" />
<line x1="499.29" y1="1945.9" x2="518.69" y2="1929.78" stroke="#ff0000" stroke-width="4.7" stroke-linecap="round" />
<line x1="532.76" y1="1915.7" x2="554.76" y2="1889.2" stroke="#ff0000" stroke-width="4.7" stroke-linecap="round" />
<line x1="568.46" y1="1874.69" x2="588.61" y2="1855.89" stroke="#ff0000" stroke-width="4.7" stroke-linecap="round" />
<line x1="603.55" y1="1842.6" x2="623.07" y2="1826.04" stroke="#ff0000" stroke-width="4.7" stroke-linecap="round" />
<line x1="633.72" y1="1810.04" x2="662.45" y2="1719.38" stroke="#ff0000" stroke-width="4.7" stroke-linecap="round" />
<line x1="671.81" y1="1717.59" x2="693.92" y2="1744.58" stroke="#ff0000" stroke-width="4.7" stroke-linecap="round" />
<line x1="703.87" y1="1743" x2="731.41" y2="1671.98" stroke="#ff0000" stroke-width="4.7" stroke-linecap="round" />
<line x1="743.75" y1="1657.77" x2="761.08" y2="1648.08" stroke="#ff0000" stroke-width="4.7" stroke-linecap="round" />
<line x1="779.8" y1="1643.41" x2="787.04" y2="1643.56" stroke="#ff0000" stroke-width="4.7" stroke-linecap="round" />
<rect x="242.28" y="1826.65" width="11.8" height="11.8" fill="#ff0000"/>
<rect x="277.05" y="2010.1" width="11.8" height="11.8" fill="#ff0000"/>
<rect x="311.83" y="1946.99" width="11.8" height="11.8" fill="#ff0000"/>
<rect x="346.6" y="2083.84" width="11.8" height="11.8" fill="#ff0000"/>
<rect x="381.38" y="2045.5" width="11.8" height="11.8" fill="#ff0000"/>
<rect x="416.15" y="2007.15" width="11.8" height="11.8" fill="#ff0000"/>
<rect x="450.93" y="1972.35" width="11.8" height="11.8" fill="#ff0000"/>
<rect x="485.7" y="1946.4" width="11.8" height="11.8" fill="#ff0000"/>
<rect x="520.48" y="1917.49" width="11.8" height="11.8" fill="#ff0000"/>
<rect x="555.25" y="1875.61" width="11.8" height="11.8" fill="#ff0000"/>
<rect x="590.03" y="1843.16" width="11.8" height="11.8" fill="#ff0000"/>
<rect x="624.8" y="1813.67" width="11.8" height="11.8" fill="#ff0000"/>
<rect x="659.58" y="1703.95" width="11.8" height="11.8" fill="#ff0000"/>
<rect x="694.35" y="1746.42" width="11.8" height="11.8" fill="#ff0000"/>
<rect x="729.13" y="1656.76" width="11.8" height="11.8" fill="#ff0000"/>
<rect x="763.9" y="1637.29" width="11.8" height="11.8" fill="#ff0000"/>
<rect x="791.14" y="1637.88" width="11.8" height="11.8" fill="#ff0000"/>
<rect x="184.5" y="1606.25" width="121" height="40.5" fill="#fff" stroke="#868686" stroke-width="1.6"/>
<line x1="188" y1="1626.75" x2="254" y2="1626.75" stroke="#ff0000" stroke-width="5" stroke-linecap="round" />
<rect x="214.75" y="1621" width="11.5" height="11.5" fill="#ff0000"/>
<text x="261.5" y="1635.5" font-size="27" font-weight="normal" text-anchor="start" fill="#000" >GF</text>
<text transform="translate(95.5,1870.5) rotate(-90)" font-size="29" font-weight="bold" text-anchor="middle" fill="#000">Gauge factor</text>
<text x="507.2" y="2233.5" font-size="29" font-weight="bold" text-anchor="middle" fill="#000" >Strain (%)</text>
<text transform="translate(33.5,1556.25) scale(1.0,1)" font-family="Carlito, Liberation Sans, sans-serif" font-size="66" font-weight="bold" fill="#000" style="font-size-adjust:0.485">e</text>
<rect x="1059.91" y="1570.5" width="711" height="573.5" fill="none" stroke="#000" stroke-width="2"/>
<line x1="1065.6" y1="2144" x2="1065.6" y2="2156" stroke="#000" stroke-width="2" stroke-linecap="butt" />
<line x1="1179.36" y1="2144" x2="1179.36" y2="2156" stroke="#000" stroke-width="2" stroke-linecap="butt" />
<line x1="1293.12" y1="2144" x2="1293.12" y2="2156" stroke="#000" stroke-width="2" stroke-linecap="butt" />
<line x1="1406.88" y1="2144" x2="1406.88" y2="2156" stroke="#000" stroke-width="2" stroke-linecap="butt" />
<line x1="1520.64" y1="2144" x2="1520.64" y2="2156" stroke="#000" stroke-width="2" stroke-linecap="butt" />
<line x1="1634.4" y1="2144" x2="1634.4" y2="2156" stroke="#000" stroke-width="2" stroke-linecap="butt" />
<line x1="1748.16" y1="2144" x2="1748.16" y2="2156" stroke="#000" stroke-width="2" stroke-linecap="butt" />
<line x1="1122.48" y1="2144" x2="1122.48" y2="2150" stroke="#000" stroke-width="2" stroke-linecap="butt" />
<line x1="1236.24" y1="2144" x2="1236.24" y2="2150" stroke="#000" stroke-width="2" stroke-linecap="butt" />
<line x1="1350" y1="2144" x2="1350" y2="2150" stroke="#000" stroke-width="2" stroke-linecap="butt" />
<line x1="1463.76" y1="2144" x2="1463.76" y2="2150" stroke="#000" stroke-width="2" stroke-linecap="butt" />
<line x1="1577.52" y1="2144" x2="1577.52" y2="2150" stroke="#000" stroke-width="2" stroke-linecap="butt" />
<line x1="1691.28" y1="2144" x2="1691.28" y2="2150" stroke="#000" stroke-width="2" stroke-linecap="butt" />
<text x="1065.6" y="2182" font-size="23.6" font-weight="bold" text-anchor="middle" fill="#000" >0</text>
<text x="1179.36" y="2182" font-size="23.6" font-weight="bold" text-anchor="middle" fill="#000" >200</text>
<text x="1293.12" y="2182" font-size="23.6" font-weight="bold" text-anchor="middle" fill="#000" >400</text>
<text x="1406.88" y="2182" font-size="23.6" font-weight="bold" text-anchor="middle" fill="#000" >600</text>
<text x="1520.64" y="2182" font-size="23.6" font-weight="bold" text-anchor="middle" fill="#000" >800</text>
<text x="1634.4" y="2182" font-size="23.6" font-weight="bold" text-anchor="middle" fill="#000" >1000</text>
<text x="1748.16" y="2182" font-size="23.6" font-weight="bold" text-anchor="middle" fill="#000" >1200</text>
<line x1="1047.91" y1="2144" x2="1059.91" y2="2144" stroke="#000" stroke-width="2" stroke-linecap="butt" />
<line x1="1047.91" y1="2059.88" x2="1059.91" y2="2059.88" stroke="#000" stroke-width="2" stroke-linecap="butt" />
<line x1="1047.91" y1="1975.77" x2="1059.91" y2="1975.77" stroke="#000" stroke-width="2" stroke-linecap="butt" />
<line x1="1047.91" y1="1891.65" x2="1059.91" y2="1891.65" stroke="#000" stroke-width="2" stroke-linecap="butt" />
<line x1="1047.91" y1="1807.54" x2="1059.91" y2="1807.54" stroke="#000" stroke-width="2" stroke-linecap="butt" />
<line x1="1047.91" y1="1723.42" x2="1059.91" y2="1723.42" stroke="#000" stroke-width="2" stroke-linecap="butt" />
<line x1="1047.91" y1="1639.31" x2="1059.91" y2="1639.31" stroke="#000" stroke-width="2" stroke-linecap="butt" />
<line x1="1053.91" y1="2101.94" x2="1059.91" y2="2101.94" stroke="#000" stroke-width="2" stroke-linecap="butt" />
<line x1="1053.91" y1="2017.83" x2="1059.91" y2="2017.83" stroke="#000" stroke-width="2" stroke-linecap="butt" />
<line x1="1053.91" y1="1933.71" x2="1059.91" y2="1933.71" stroke="#000" stroke-width="2" stroke-linecap="butt" />
<line x1="1053.91" y1="1849.6" x2="1059.91" y2="1849.6" stroke="#000" stroke-width="2" stroke-linecap="butt" />
<line x1="1053.91" y1="1765.48" x2="1059.91" y2="1765.48" stroke="#000" stroke-width="2" stroke-linecap="butt" />
<line x1="1053.91" y1="1681.36" x2="1059.91" y2="1681.36" stroke="#000" stroke-width="2" stroke-linecap="butt" />
<line x1="1053.91" y1="1597.25" x2="1059.91" y2="1597.25" stroke="#000" stroke-width="2" stroke-linecap="butt" />
<text x="1040.91" y="2151.5" font-size="24" font-weight="bold" text-anchor="end" fill="#000" >-500.0k</text>
<text x="1040.91" y="2067.38" font-size="24" font-weight="bold" text-anchor="end" fill="#000" >0.0</text>
<text x="1040.91" y="1983.27" font-size="24" font-weight="bold" text-anchor="end" fill="#000" >500.0k</text>
<text x="1040.91" y="1899.15" font-size="24" font-weight="bold" text-anchor="end" fill="#000" >1.0M</text>
<text x="1040.91" y="1815.04" font-size="24" font-weight="bold" text-anchor="end" fill="#000" >1.5M</text>
<text x="1040.91" y="1730.92" font-size="24" font-weight="bold" text-anchor="end" fill="#000" >2.0M</text>
<text x="1040.91" y="1646.81" font-size="24" font-weight="bold" text-anchor="end" fill="#000" >2.5M</text>
<path d="M1065.2,2044.6 L1064.6,2056.9 L1069.7,2061.4 L1072.4,2059.1 L1088.1,2028.9 L1087.6,2003.1 L1087,1958.3 L1091.4,1880 L1094.8,1835.2 L1095.9,1801.6 L1101.5,1756.8 L1110.5,1700.8 L1117.2,1667.2 L1125,1631.4 L1180,1630 L1232,1627.9 L1250,1629 L1263,1632 L1348,1630.6 L1420,1630.3 L1470,1631.4 L1486.4,1627 L1497.4,1631.4 L1513.8,1629.2 L1529.1,1631.4 L1535.1,1627.6 L1541.1,1631.4 L1550.4,1627.6 L1555.4,1632 L1566.3,1631.4 L1569.6,1627.6 L1572.9,1632 L1577,1628 L1580,1631.5 L1582.7,1627.6 L1586,1631.4 L1590,1628 L1593.7,1627.6 L1597,1631.4 L1612.3,1630.9 L1628.7,1627 L1635.3,1631.4 L1646.2,1631.4 L1648.2,1633.4 L1654.9,1691.7 L1659.4,1844 L1662.7,1893.2 L1676.1,2020.9 L1685.1,2046.6 L1696.3,2046.6 L1703,2053.4 L1708.6,2051.1 L1716.5,2057.8 L1727.7,2056.7 L1732.1,2057.2 L1738.9,2060.1" fill="none" stroke="#ff0000" stroke-width="6" stroke-linejoin="round" stroke-linecap="round"/>
<text x="1430.7" y="1616.7" font-size="29.4" font-weight="bold" text-anchor="middle" fill="#000" >50% strain</text>
<text x="1398.3" y="1921.1" font-size="29.3" font-weight="bold" text-anchor="middle" fill="#000" >15 minutes</text>
<text transform="translate(965.9,1817) rotate(-90)" font-size="29.8" font-weight="bold" text-anchor="middle" fill="#000">Resistance (ohms)</text>
<text x="1416.5" y="2230.2" font-size="29.3" font-weight="bold" text-anchor="middle" fill="#000" >Time (Seconds)</text>
<text transform="translate(962,1557.5) scale(1.0,1)" font-family="Carlito, Liberation Sans, sans-serif" font-size="66" font-weight="bold" fill="#000" style="font-size-adjust:0.485">f</text>
<rect x="875" y="1497" width="3" height="2.5" fill="#777"/>
</svg>
</body></html>
